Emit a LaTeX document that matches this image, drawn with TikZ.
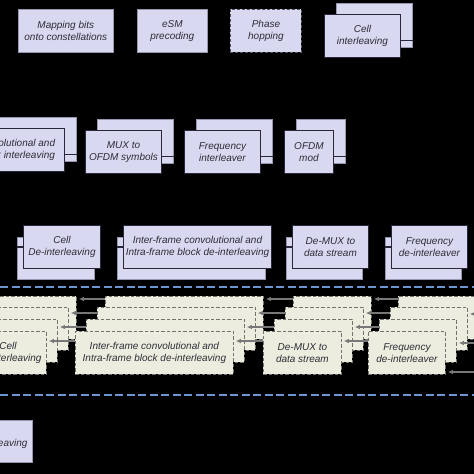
\documentclass[tikz,border=0pt]{standalone}
\usepackage{fontspec}
\setmainfont{Liberation Sans}
\usetikzlibrary{positioning, arrows.meta}

\definecolor{lav}{RGB}{216,216,240}
\definecolor{lavedge}{RGB}{150,150,175}
\definecolor{darkedge}{RGB}{40,40,58}
\definecolor{cream}{RGB}{236,237,222}
\definecolor{dashgray}{RGB}{115,115,110}
\definecolor{arrgray}{RGB}{120,120,120}
\definecolor{sepblue}{RGB}{110,150,210}
\definecolor{txtgray}{RGB}{45,45,55}

\tikzset{
  lbox/.style={draw=lavedge, fill=lav, line width=0.6pt, anchor=north west,
    minimum height=43pt, inner sep=2pt, align=center, text=txtgray,
    font=\itshape\fontsize{10}{12}\selectfont},
  fbox/.style={lbox, draw=darkedge, line width=0.9pt},
  hbox/.style={lbox, draw=darkedge!80, dashed, dash pattern=on 3pt off 2pt, line width=0.9pt},
  cbox/.style={lbox, fill=cream, draw=dashgray, dash pattern=on 3.5pt off 2pt, line width=0.8pt},
  lnk/.style={darkedge, line width=1.4pt},
  arr/.style={arrgray, line width=1.2pt, -{Latex[length=5pt,width=4.5pt]}, shorten >=2pt},
  sep/.style={sepblue, line width=2.5pt, dash pattern=on 8pt off 3.5pt}
}

\begin{document}
\begin{tikzpicture}[x=1pt, y=-1pt]
\fill[black] (0,0) rectangle (474,474);
\useasboundingbox (0,0) rectangle (474,474);
\clip (0,0) rectangle (474,474);

% transmitter
\node[lbox, minimum width=95pt] (map) at (18,9) {Mapping bits\\onto constellations};
\node[lbox, minimum width=70pt] (esm) at (137,9) {eSM\\precoding};
\node[hbox, minimum width=71pt] (phh) at (230,9) {Phase\\hopping};

\foreach \n/\x/\y/\w/\lbl in {cil/324/14/76/{Cell\\interleaving},
    til/-84/128/148/{Inter-frame convolutional and\\Intra-frame block interleaving},
    mux/85/130/76/{MUX to\\OFDM symbols},
    fil/184/130/76/{Frequency\\interleaver},
    ofdm/284/130/49/{OFDM\\mod}}
{
  \node[lbox, minimum width=\w pt, minimum height=44pt] (\n b) at (\x+12, \y-11) {};
  \coordinate (\n l) at ([yshift=7pt]\n b.south east);
  \node[fbox, minimum width=\w pt] (\n) at (\x,\y) {\lbl};
  \draw[lnk] (\n l) -- (\n l -| \n.east);
}

% receiver, single frame
\foreach \n/\x/\w/\lbl in {cdi/23/77/{Cell\\De-interleaving},
    tdi/123/148/{Inter-frame convolutional and\\Intra-frame block de-interleaving},
    dmx/292/76/{De-MUX to\\data stream},
    fdi/391/76/{Frequency\\de-interleaver}}
{
  \node[lbox, minimum width=\w pt, minimum height=42pt] (\n b) at (\x-6, 237) {};
  \node[fbox, minimum width=\w pt] (\n) at (\x,225) {\lbl};
  \coordinate (\n l) at ([yshift=-22pt]\n.north west);
  \draw[lnk] (\n l) -- (\n l -| \n b.west);
}

\draw[sep] (0,287) -- (474,287);

% receiver, frame stacks
\foreach \n/\x/\w/\lbl in {c/-31/77/{Cell\\De-interleaving},
    i/75/158/{Inter-frame convolutional and\\Intra-frame block de-interleaving},
    d/263/78/{De-MUX to\\data stream},
    f/368/77/{Frequency\\de-interleaver}}
{
  \foreach \k/\dx/\dy in {3/30/-35, 2/22/-24, 1/11/-12}
    \node[cbox, minimum width=\w pt] (\n\k) at (\x+\dx, 331+\dy) {};
  \node[cbox, minimum width=\w pt] (\n0) at (\x,331) {\lbl};
}

\foreach \src/\dst in {i/c, d/i, f/d}
  \foreach \k/\a in {3/3, 2/6, 1/8, 0/10}
  {
    \coordinate (\src\k a) at ([yshift=-\a pt]\src\k.north west);
    \draw[arr] (\src\k a) -- (\src\k a -| \dst\k.east);
  }

\foreach \k/\y in {2/314, 1/343, 0/372}
{
  \coordinate (in\k) at (480,\y);
  \draw[arr] (in\k) -- (in\k -| f\k.east);
}

\draw[sep] (0,395) -- (474,395);

% next block
\node[lbox, minimum width=77pt, minimum height=42pt] (cdx) at (-45,420) {\mbox{}\\De-interleaving};
\end{tikzpicture}
\end{document}
